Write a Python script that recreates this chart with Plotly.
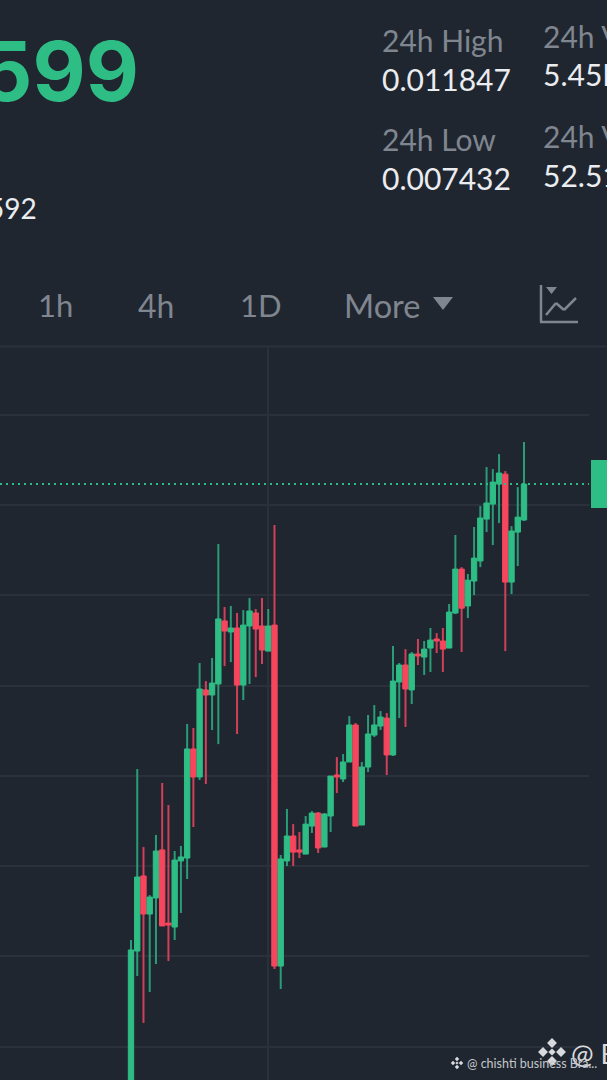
#!/usr/bin/env python3
"""Dark exchange app screenshot: candlesticks with header stats."""

import numpy as np
import plotly.graph_objects as go

W, H = 607, 1080
PLOT_TOP, PLOT_RIGHT = 347, 589

BG = "#1f2630"
GRID = "#2a313b"
GREEN = "#2ebd85"
RED = "#f6465d"
WICK_GREEN = "#2b9c78"
WICK_RED = "#cf4059"
GRAY = "#80868f"
WHITE = "#eaecef"

# Prices in millionths
opens = [8205, 9030, 9446, 9235, 9324, 9590, 9185, 9163, 9529, 9545, 10149, 9994, 10476, 10448, 10509, 10858,
         10797, 10819, 10503, 10830, 10902, 10830, 10691, 10835, 8947, 9529, 9667, 9590, 9567, 9722, 9794, 9606,
         9778, 10005, 9983, 10077, 10282, 9728, 10049, 10226, 10276, 10320, 10116, 10520, 10614, 10476, 10675, 10658,
         10708, 10758, 10747, 10708, 10902, 11145, 10941, 11079, 11190, 11422, 11505, 11616, 11671, 11073, 11350, 11417]
closes = [9036, 9440, 9235, 9329, 9584, 9169, 9174, 9534, 9551, 10149, 9994, 10481, 10448, 10514, 10869, 10802,
          10819, 10503, 10835, 10913, 10813, 10697, 10830, 8947, 9540, 9667, 9578, 9578, 9733, 9794, 9601, 9789,
          9999, 9994, 10077, 10282, 9722, 10049, 10232, 10282, 10326, 10116, 10525, 10614, 10481, 10675, 10664, 10702,
          10752, 10747, 10702, 10907, 11145, 10929, 11084, 11206, 11428, 11511, 11627, 11677, 11073, 11356, 11433, 11616]
highs = [9091, 10038, 9606, 9340, 9673, 9961, 9839, 9584, 9612, 10287, 10265, 10625, 10525, 10653, 11284, 10935,
         10941, 10902, 10918, 10985, 10924, 10985, 10924, 11389, 9562, 9817, 9733, 9689, 9778, 9805, 9800, 9794,
         9999, 10104, 10121, 10331, 10293, 10077, 10337, 10392, 10359, 10348, 10719, 10625, 10702, 10686, 10758, 10747,
         10819, 10791, 10819, 10952, 11334, 11156, 11118, 11378, 11494, 11710, 11699, 11782, 11688, 11383, 11599, 11849]
lows = [8150, 8892, 8632, 8803, 8958, 9169, 8975, 9091, 9241, 9429, 9717, 9977, 9955, 10254, 10176, 10608,
        10630, 10232, 10420, 10509, 10547, 10619, 10691, 8931, 8820, 9501, 9501, 9545, 9567, 9684, 9573, 9606,
        9689, 9905, 9966, 10077, 9722, 9728, 10021, 10215, 10254, 10005, 10110, 10320, 10271, 10398, 10614, 10559,
        10575, 10680, 10575, 10708, 10896, 10686, 10874, 11001, 11156, 11350, 11278, 11400, 10691, 11007, 11162, 11411]
last_price = 11616

candles = np.arange(len(opens))
o, c = np.array(opens) / 1e6, np.array(closes) / 1e6
h, l = np.array(highs) / 1e6, np.array(lows) / 1e6


def px(x):
    return x / PLOT_RIGHT


def py(y):
    return (H - y) / (H - PLOT_TOP)


def label(text, x, y, size, color, anchor="left", weight=400, family="Lato"):
    fig.add_annotation(text=text, x=px(x), y=py(y), xref="paper", yref="paper", xanchor=anchor, yanchor="middle",
                       showarrow=False, font=dict(family=family, size=size, color=color, weight=weight))


def line(x0, y0, x1, y1, color, width):
    fig.add_shape(type="line", xref="paper", yref="paper", x0=px(x0), y0=py(y0), x1=px(x1), y1=py(y1),
                  line=dict(color=color, width=width))


def poly(points, color):
    path = "M" + " L".join(f"{px(a):.5f},{py(b):.5f}" for a, b in points) + " Z"
    fig.add_shape(type="path", xref="paper", yref="paper", path=path, fillcolor=color, line=dict(width=0))


def diamond(cx, cy, r, color):
    poly([(cx, cy - r), (cx + r, cy), (cx, cy + r), (cx - r, cy)], color)


def logo(cx, cy, s, color):
    diamond(cx, cy - s, s * 0.55, color)
    diamond(cx, cy + s, s * 0.55, color)
    diamond(cx - s, cy, s * 0.55, color)
    diamond(cx + s, cy, s * 0.55, color)
    diamond(cx, cy, s * 0.4, color)


def wick_trace(mask, color):
    xs, ys = [], []
    for i in candles[mask]:
        xs += [i, i, None]
        ys += [h[i], l[i], None]
    return go.Scatter(x=xs, y=ys, mode="lines", line=dict(color=color, width=2), showlegend=False, zorder=0)


fig = go.Figure()

# Wicks sit under the bodies, in a duller colour
fig.add_trace(wick_trace(c >= o, WICK_GREEN))
fig.add_trace(wick_trace(c < o, WICK_RED))
fig.add_trace(go.Candlestick(
    x=candles, open=o, high=np.maximum(o, c), low=np.minimum(o, c), close=c, whiskerwidth=0,
    increasing=dict(line=dict(color=GREEN, width=1), fillcolor=GREEN),
    decreasing=dict(line=dict(color=RED, width=1), fillcolor=RED),
    showlegend=False, zorder=1,
))

fig.update_xaxes(range=[-21.0, 73.42], tickvals=[22], showticklabels=False, showgrid=True, gridcolor=GRID,
                 gridwidth=1.5, zeroline=False, ticks="", rangeslider_visible=False)
fig.update_yaxes(range=[0.008316, 0.012375], tick0=0, dtick=0.0005, showticklabels=False, showgrid=True,
                 gridcolor=GRID, gridwidth=1.5, zeroline=False, ticks="")
fig.update_layout(
    width=W, height=H, margin=dict(l=0, r=W - PLOT_RIGHT, t=PLOT_TOP, b=0),
    paper_bgcolor=BG, plot_bgcolor=BG, showlegend=False, boxgap=0.14, boxgroupgap=0,
)

# Last price marker
fig.add_shape(type="line", xref="paper", yref="y", x0=0, x1=1, y0=last_price / 1e6, y1=last_price / 1e6,
              line=dict(color=GREEN, width=2, dash="2px,4px"))
poly([(591, 460), (607, 460), (607, 508), (591, 508)], GREEN)
line(0, 346.5, W, 346.5, GRID, 2)

# Header
label("599", 141, 72, 82, GREEN, "right", 700, "Inter")
label("592", 38.5, 208, 28, WHITE, "right")
label("24h High", 379.5, 40, 30, GRAY)
label("0.011847", 379.5, 79, 30, WHITE)
label("24h Low", 379.5, 139, 30, GRAY)
label("0.007432", 379.5, 178, 30, WHITE)
label("24h V", 540.5, 36, 30, GRAY)
label("5.45M", 540.5, 74, 30, WHITE)
label("24h V", 540.5, 136, 30, GRAY)
label("52.51", 540.5, 175, 30, WHITE)

# Interval tabs
label("1h", 36, 305, 31, GRAY)
label("4h", 136, 305, 32, GRAY)
label("1D", 237.5, 305, 31, GRAY)
label("More", 342, 305, 32.5, GRAY)
poly([(433, 297), (453, 297), (443, 310)], GRAY)

# Chart type icon
line(541, 285, 541, 322, GRAY, 2.5)
line(540, 322, 578, 322, GRAY, 2.5)
poly([(546, 287), (557, 287), (551.5, 294)], GRAY)
for a, b, d, e in [(546, 315, 556, 303), (556, 303, 564, 310), (564, 310, 576, 298)]:
    line(a, b, d, e, GRAY, 2.5)

# Watermarks
logo(552, 1052, 9, "#d8dade")
label("@ B", 569, 1053, 27, "#d8dade")
logo(457, 1063, 4, "#d8dade")
label("@ chishti business Bra...", 465, 1063, 12.5, "#c4c7cc")

fig.write_html("out.html", config={"displayModeBar": False},
               post_script="document.body.style.margin='0';document.body.style.background='#1f2630';")
